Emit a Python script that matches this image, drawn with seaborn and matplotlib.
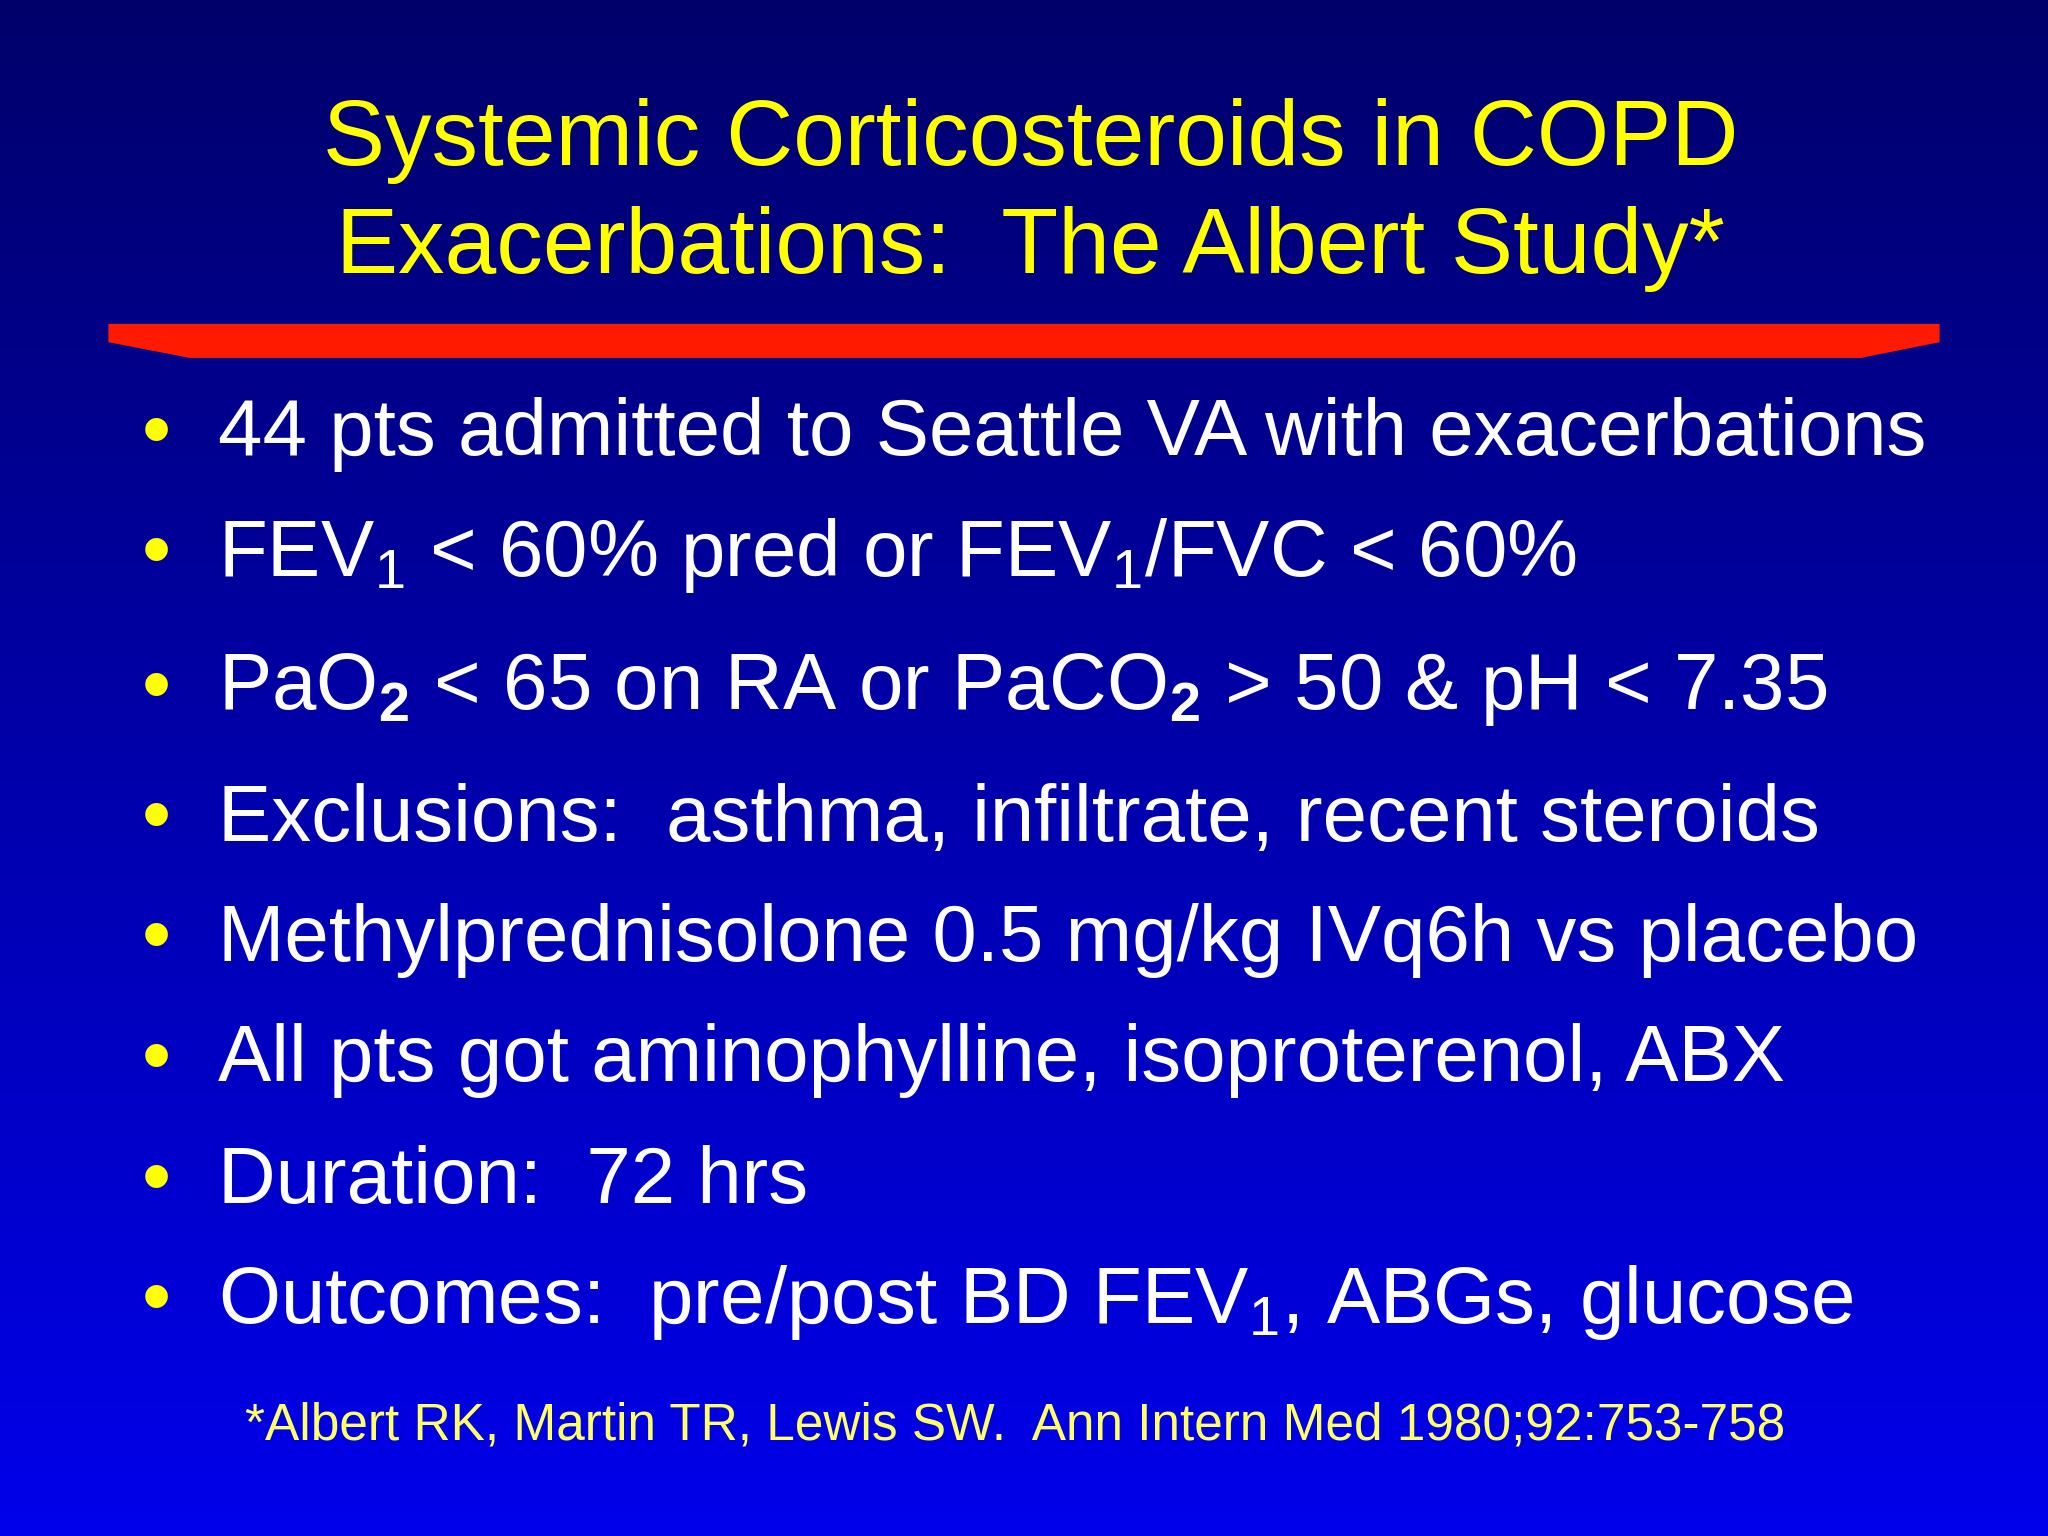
"""
Slide recreation: Systemic Corticosteroids in COPD Exacerbations (Albert Study)
"""

import numpy as np
import matplotlib.pyplot as plt
import seaborn as sns
from matplotlib.patches import Polygon

sns.set_style("white")
plt.rcParams["font.family"] = ["Liberation Sans", "DejaVu Sans"]
plt.rcParams["mathtext.fontset"] = "custom"
plt.rcParams["mathtext.rm"] = "Liberation Sans"
plt.rcParams["mathtext.it"] = "Liberation Sans"
plt.rcParams["mathtext.bf"] = "Liberation Sans:bold"

# ── Text content ──────────────────────────────────────────────────────────────
title_lines = ["Systemic Corticosteroids in COPD", "Exacerbations:  The Albert Study*"]
bullets = [
    "44 pts admitted to Seattle VA with exacerbations",
    r"FEV$_1$ < 60% pred or FEV$_1$/FVC < 60%",
    r"PaO$_\mathbf{2}$ < 65 on RA or PaCO$_\mathbf{2}$ > 50 & pH < 7.35",
    "Exclusions:  asthma, infiltrate, recent steroids",
    "Methylprednisolone 0.5 mg/kg IVq6h vs placebo",
    "All pts got aminophylline, isoproterenol, ABX",
    "Duration:  72 hrs",
    r"Outcomes:  pre/post BD FEV$_1$, ABGs, glucose",
]
footnote = "*Albert RK, Martin TR, Lewis SW.  Ann Intern Med 1980;92:753-758"

fig = plt.figure(figsize=(20.48, 15.36), dpi=100)
ax = fig.add_axes([0, 0, 1, 1])
ax.set_xlim(0, 1568)
ax.set_ylim(1176, 0)
ax.axis("off")

# background gradient: dark navy at top to bright blue at bottom
grad = np.linspace(0, 1, 256)[:, None]
top = np.array([0.0, 0.0, 0.42])
bot = np.array([0.0, 0.0, 0.92])
img = top + (bot - top) * grad[..., None]
ax.imshow(img, extent=[0, 1568, 1176, 0], aspect="auto", zorder=0)

# title
for i, line in enumerate(title_lines):
    ax.text(789, 108 + i * 83, line, color="#ffff00", fontsize=67,
            ha="center", va="center")

# red bar
ax.add_patch(Polygon([[83, 248], [1485, 248], [1485, 262], [1425, 274], [145, 274], [83, 262]],
                     closed=True, facecolor="#ff1a00", edgecolor="none", zorder=2))

# bullets
ys = [333, 425, 528, 628, 720, 812, 905, 997]
for y, b in zip(ys, bullets):
    ax.text(120, y, "\u2022", color="#ffff00", fontsize=60, ha="center", va="center")
    ax.text(167, y, b, color="white", fontsize=57.5, ha="left", va="center")

ax.text(777, 1092, footnote, color="#ffff66", fontsize=37, ha="center", va="center")

fig.savefig("out.png", dpi=100)
